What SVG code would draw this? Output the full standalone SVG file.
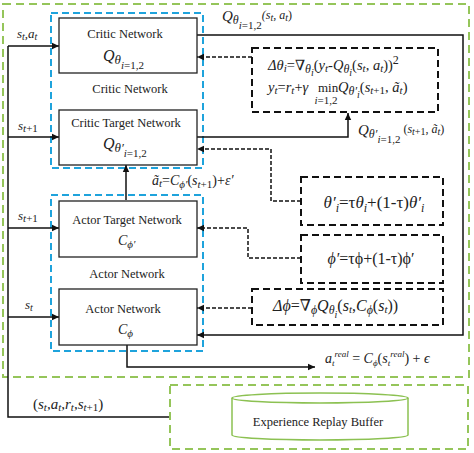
<svg xmlns="http://www.w3.org/2000/svg" width="474" height="453" viewBox="0 0 474 453" font-family="'Liberation Serif', 'Times New Roman', 'DejaVu Serif', serif" font-size="13">
<style>
.g{fill:none;stroke:#95c55a;stroke-width:2;stroke-dasharray:8,5}
.b{fill:none;stroke:#1fa3dc;stroke-width:2;stroke-dasharray:7,4}
.box{fill:#fff;stroke:#222;stroke-width:1.3}
.db{fill:none;stroke:#111;stroke-width:2;stroke-dasharray:7,4}
.ln{fill:none;stroke:#111;stroke-width:1.5}
.dl{fill:none;stroke:#111;stroke-width:1.5;stroke-dasharray:4,2}
text{font-family:'Liberation Serif','Times New Roman','DejaVu Serif',serif;fill:#222}
.t{font-size:12.5px}
.c{text-anchor:middle}
.m{font-style:italic}
.up{font-style:normal}
</style>
<defs>
<marker id="ah" markerWidth="8" markerHeight="8" refX="7" refY="4" orient="auto" markerUnits="userSpaceOnUse">
<path d="M0,0.8 L7,4 L0,7.2 Z" fill="#111"/>
</marker>
</defs>

<g id="frames">
<rect class="g" x="3" y="4" width="466" height="373"/>
<rect class="b" x="51" y="13" width="152" height="155"/>
<rect class="b" x="51" y="195" width="152" height="156"/>
</g>

<g id="connectors">
<path class="ln" d="M8,46 V417 H170"/>
<path class="ln" d="M8,46 H59" marker-end="url(#ah)"/>
<path class="ln" d="M8,137 H59" marker-end="url(#ah)"/>
<path class="ln" d="M8,228 H59" marker-end="url(#ah)"/>
<path class="ln" d="M8,317 H59" marker-end="url(#ah)"/>
<path class="ln" d="M126,200 V165" marker-end="url(#ah)"/>
<path class="ln" d="M197,35 H463 V335 H197" marker-end="url(#ah)"/>
<path class="ln" d="M197,137 H348 V113" marker-end="url(#ah)"/>
<path class="ln" d="M127,345 V367 H315" marker-end="url(#ah)"/>
<path class="dl" d="M252,57 H197" marker-end="url(#ah)"/>
<path class="dl" d="M301,201 H271 V149 H197" marker-end="url(#ah)"/>
<path class="dl" d="M301,258 H248 V228 H197" marker-end="url(#ah)"/>
<path class="dl" d="M252,308 H197" marker-end="url(#ah)"/>
</g>

<g id="critic">
<rect class="box" x="59" y="18" width="138" height="55"/>
<text class="t c" x="125" y="38">Critic Network</text>
<text class="m" x="103" y="61" font-size="16">Q<tspan font-size="13" baseline-shift="-3">θ</tspan><tspan font-size="11" baseline-shift="-8">i<tspan class="up">=1,2</tspan></tspan></text>
</g>

<g id="critic-target">
<rect class="box" x="59" y="110" width="138" height="55"/>
<text class="t c" x="126" y="127">Critic Target Network</text>
<text class="m" x="103" y="149" font-size="16">Q<tspan font-size="13" baseline-shift="-3">θ′</tspan><tspan font-size="11" baseline-shift="-8">i<tspan class="up">=1,2</tspan></tspan></text>
</g>

<text class="t c" x="130" y="93">Critic Network</text>
<text class="t c" x="127" y="278">Actor Network</text>

<g id="actor-target">
<rect class="box" x="59" y="201" width="138" height="56"/>
<text class="t c" x="127" y="224">Actor Target Network</text>
<text class="m" x="118" y="245" font-size="14">C<tspan font-size="11" baseline-shift="-3">ϕ′</tspan></text>
</g>

<g id="actor">
<rect class="box" x="59" y="289" width="138" height="56"/>
<text class="t c" x="123" y="313">Actor Network</text>
<text class="m" x="118" y="334" font-size="14">C<tspan font-size="11" baseline-shift="-3">ϕ</tspan></text>
</g>

<g id="labels">
<text class="m" x="17" y="38" font-size="13">s<tspan font-size="10" baseline-shift="-2">t</tspan>,a<tspan font-size="10" baseline-shift="-2">t</tspan></text>
<text class="m" x="18" y="130" font-size="13">s<tspan font-size="11" baseline-shift="-2">t<tspan class="up">+1</tspan></tspan></text>
<text class="m" x="18" y="220" font-size="13">s<tspan font-size="11" baseline-shift="-2">t<tspan class="up">+1</tspan></tspan></text>
<text class="m" x="25" y="309" font-size="13">s<tspan font-size="10" baseline-shift="-2">t</tspan></text>
<text class="m" x="33" y="409" font-size="15"><tspan class="up">(</tspan>s<tspan font-size="11" baseline-shift="-2">t</tspan>,a<tspan font-size="11" baseline-shift="-2">t</tspan>,r<tspan font-size="11" baseline-shift="-2">t</tspan>,s<tspan font-size="11" baseline-shift="-2">t<tspan class="up">+1</tspan></tspan><tspan class="up">)</tspan></text>
<text class="m" x="222" y="21" font-size="15">Q<tspan font-size="12" baseline-shift="-3">θ</tspan><tspan font-size="11" baseline-shift="-8">i<tspan class="up">=1,2</tspan></tspan><tspan font-size="12" baseline-shift="2">(s<tspan font-size="10" baseline-shift="-2">t</tspan><tspan class="up">, </tspan>a<tspan font-size="10" baseline-shift="-2">t</tspan><tspan class="up">)</tspan></tspan></text>
<text class="m" x="358" y="135" font-size="15">Q<tspan font-size="12" baseline-shift="-3">θ′</tspan><tspan font-size="11" baseline-shift="-8">i<tspan class="up">=1,2</tspan></tspan><tspan font-size="12" baseline-shift="2" class="up"> (<tspan font-style="italic">s</tspan><tspan font-size="10" baseline-shift="-2"><tspan font-style="italic">t</tspan>+1</tspan>, <tspan font-style="italic">ã</tspan><tspan font-size="10" baseline-shift="-2" font-style="italic">t</tspan>)</tspan></text>
<text class="m" x="152" y="185" font-size="14">ã<tspan font-size="11" baseline-shift="-2">t</tspan><tspan class="up">=</tspan>C<tspan font-size="11" baseline-shift="-3">ϕ′</tspan><tspan class="up">(</tspan>s<tspan font-size="11" baseline-shift="-3">t<tspan class="up">+1</tspan></tspan><tspan class="up">)+</tspan>ε′</text>
<text class="m" x="325" y="363" font-size="14">a<tspan font-size="9" baseline-shift="-3">t</tspan><tspan font-size="9" baseline-shift="6">real</tspan><tspan class="up"> = </tspan>C<tspan font-size="9" baseline-shift="-3">ϕ</tspan><tspan class="up">(</tspan>s<tspan font-size="9" baseline-shift="-3">t</tspan><tspan font-size="9" baseline-shift="6">real</tspan><tspan class="up">) + </tspan>ϵ</text>
</g>

<g id="critic-update">
<rect class="db" x="252" y="48" width="186" height="64"/>
<text class="m" x="268" y="70" font-size="14.5">Δθ<tspan font-size="11" baseline-shift="-2">i</tspan><tspan class="up">=∇</tspan><tspan font-size="12" baseline-shift="-3">θ</tspan><tspan font-size="10" baseline-shift="-6">i</tspan><tspan class="up">(</tspan>y<tspan font-size="11" baseline-shift="-2">t</tspan><tspan class="up">-</tspan>Q<tspan font-size="12" baseline-shift="-3">θ</tspan><tspan font-size="10" baseline-shift="-6">i</tspan><tspan class="up">(</tspan>s<tspan font-size="11" baseline-shift="-2">t</tspan><tspan class="up">, </tspan>a<tspan font-size="11" baseline-shift="-2">t</tspan><tspan class="up">))</tspan><tspan font-size="12" class="up" baseline-shift="6">2</tspan></text>
<text class="m" x="268" y="92" font-size="14.5">y<tspan font-size="11" baseline-shift="-2">t</tspan><tspan class="up">=</tspan>r<tspan font-size="11" baseline-shift="-2">t</tspan><tspan class="up">+</tspan>γ</text>
<text x="318" y="92" font-size="13">min</text>
<text class="m c" x="326" y="104" font-size="11">i<tspan class="up">=1,2</tspan></text>
<text class="m" x="338" y="92" font-size="14.5">Q<tspan font-size="12" baseline-shift="-3">θ′</tspan><tspan font-size="10" baseline-shift="-6">i</tspan><tspan class="up">(</tspan>s<tspan font-size="11" baseline-shift="-2">t<tspan class="up">+1</tspan></tspan><tspan class="up">, </tspan>ã<tspan font-size="11" baseline-shift="-2">t</tspan><tspan class="up">)</tspan></text>
</g>

<g id="target-critic-update">
<rect class="db" x="301" y="177" width="142" height="48"/>
<text class="m c" x="374" y="208" font-size="17">θ′<tspan font-size="12" baseline-shift="-4">i</tspan><tspan class="up">=τ</tspan>θ<tspan font-size="12" baseline-shift="-4">i</tspan><tspan class="up">+(1-τ)</tspan>θ′<tspan font-size="12" baseline-shift="-4">i</tspan></text>
</g>

<g id="target-actor-update">
<rect class="db" x="301" y="235" width="142" height="48"/>
<text class="m c" x="371" y="264" font-size="16">ϕ′<tspan class="up">=τϕ+(1-τ)ϕ′</tspan></text>
</g>

<g id="actor-update">
<rect class="db" x="252" y="289" width="191" height="36"/>
<text class="m" x="273" y="311" font-size="16">Δϕ<tspan class="up">=∇</tspan><tspan font-size="12" baseline-shift="-3">ϕ</tspan>Q<tspan font-size="12" baseline-shift="-3">θ</tspan><tspan font-size="10" baseline-shift="-7">i</tspan><tspan class="up">(</tspan>s<tspan font-size="11" baseline-shift="-2">t</tspan><tspan class="up">,</tspan>C<tspan font-size="12" baseline-shift="-3">ϕ</tspan><tspan class="up">(</tspan>s<tspan font-size="11" baseline-shift="-2">t</tspan><tspan class="up">))</tspan></text>
</g>

<g id="replay">
<rect class="g" x="170" y="385" width="298" height="64"/>
<path d="M232,398 V435 A88,5 0 0 0 408,435 V398" fill="#fff" stroke="#8cc152" stroke-width="1.5"/>
<ellipse cx="320" cy="398" rx="88" ry="5" fill="#fff" stroke="#8cc152" stroke-width="1.5"/>
<text class="t c" x="318" y="426">Experience Replay Buffer</text>
</g>
</svg>
